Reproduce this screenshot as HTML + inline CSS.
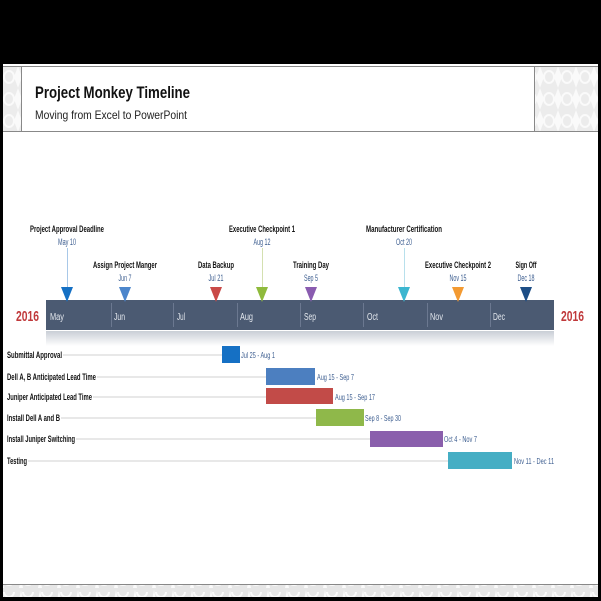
<!DOCTYPE html>
<html><head><meta charset="utf-8"><style>
html,body{margin:0;padding:0;background:#000;}
svg{display:block;}
text{font-family:"Liberation Sans",sans-serif;}
</style></head><body>
<svg width="601" height="601" viewBox="0 0 601 601" xmlns="http://www.w3.org/2000/svg">
<defs>
<pattern id="pat" width="18" height="22" patternUnits="userSpaceOnUse">
<rect width="18" height="22" fill="#ececec"/>
<ellipse cx="9" cy="11" rx="5" ry="6" fill="none" stroke="#fafafa" stroke-width="2"/>
<path d="M0 0 L4 11 L0 22 Z M18 0 L14 11 L18 22 Z" fill="#fafafa"/>
</pattern>
<pattern id="patb" width="19" height="12" patternUnits="userSpaceOnUse">
<rect width="19" height="12" fill="#e6e6e6"/>
<path d="M4 4 A5 5 0 0 0 14 4" fill="none" stroke="#fafafa" stroke-width="2"/>
<path d="M0 12 L2 2 L4 12 Z" fill="#fafafa"/>
</pattern>
<linearGradient id="refl" x1="0" y1="0" x2="0" y2="1">
<stop offset="0" stop-color="#c9ced6"/><stop offset="1" stop-color="#ffffff"/>
</linearGradient>
</defs>
<rect x="0" y="0" width="601" height="601" fill="#000"/>
<rect x="3" y="64" width="595" height="533" fill="#fff"/>
<rect x="3" y="66" width="18" height="65" fill="url(#pat)"/>
<rect x="535" y="66" width="63" height="65" fill="url(#pat)"/>
<line x1="3" y1="66.5" x2="598" y2="66.5" stroke="#888" stroke-width="1"/>
<line x1="3" y1="131.5" x2="598" y2="131.5" stroke="#888" stroke-width="1"/>
<line x1="21.5" y1="66" x2="21.5" y2="131" stroke="#888"/>
<line x1="534.5" y1="66" x2="534.5" y2="131" stroke="#888"/>
<text x="35" y="98" font-size="17" font-weight="bold" fill="#111" textLength="155" lengthAdjust="spacingAndGlyphs">Project Monkey Timeline</text>
<text x="35" y="119" font-size="12" fill="#222" textLength="152" lengthAdjust="spacingAndGlyphs">Moving from Excel to PowerPoint</text>
<rect x="3" y="585" width="595" height="12" fill="url(#patb)"/>
<line x1="3" y1="584.5" x2="598" y2="584.5" stroke="#888"/>
<rect x="46" y="331" width="508" height="15" fill="url(#refl)"/>
<rect x="46" y="300" width="508" height="30" fill="#4b5a72"/>
<g stroke="#6b7890" stroke-width="1">
<line x1="111.5" y1="303" x2="111.5" y2="327"/><line x1="173.5" y1="303" x2="173.5" y2="327"/>
<line x1="237.5" y1="303" x2="237.5" y2="327"/><line x1="300.5" y1="303" x2="300.5" y2="327"/>
<line x1="363.5" y1="303" x2="363.5" y2="327"/><line x1="427.5" y1="303" x2="427.5" y2="327"/>
<line x1="490.5" y1="303" x2="490.5" y2="327"/>
</g>
<g font-size="10" fill="#e4e8ee">
<text x="50" y="320" textLength="14" lengthAdjust="spacingAndGlyphs">May</text><text x="114" y="320" textLength="11" lengthAdjust="spacingAndGlyphs">Jun</text><text x="177" y="320" textLength="8" lengthAdjust="spacingAndGlyphs">Jul</text>
<text x="240" y="320" textLength="13" lengthAdjust="spacingAndGlyphs">Aug</text><text x="304" y="320" textLength="12" lengthAdjust="spacingAndGlyphs">Sep</text><text x="367" y="320" textLength="11" lengthAdjust="spacingAndGlyphs">Oct</text>
<text x="430" y="320" textLength="13" lengthAdjust="spacingAndGlyphs">Nov</text><text x="493" y="320" textLength="12" lengthAdjust="spacingAndGlyphs">Dec</text>
</g>
<text x="16" y="321" font-size="15" font-weight="bold" fill="#c0393b" textLength="23" lengthAdjust="spacingAndGlyphs">2016</text>
<text x="561" y="321" font-size="15" font-weight="bold" fill="#c0393b" textLength="23" lengthAdjust="spacingAndGlyphs">2016</text>
<g font-size="9">
<line x1="67.5" y1="248" x2="67.5" y2="288" stroke="#a8c8e8"/>
<polygon points="61,287 73,287 67,302" fill="#1570c4"/>
<text x="67" y="232" text-anchor="middle" font-weight="bold" fill="#111" textLength="74" lengthAdjust="spacingAndGlyphs">Project Approval Deadline</text>
<text x="67" y="245" text-anchor="middle" fill="#3d5e90" textLength="18" lengthAdjust="spacingAndGlyphs">May 10</text>

<polygon points="119,287 131,287 125,302" fill="#4c86cc"/>
<text x="125" y="268" text-anchor="middle" font-weight="bold" fill="#111" textLength="64" lengthAdjust="spacingAndGlyphs">Assign Project Manger</text>
<text x="125" y="281" text-anchor="middle" fill="#3d5e90" textLength="13" lengthAdjust="spacingAndGlyphs">Jun 7</text>

<polygon points="210,287 222,287 216,302" fill="#c94a48"/>
<text x="216" y="268" text-anchor="middle" font-weight="bold" fill="#111" textLength="36" lengthAdjust="spacingAndGlyphs">Data Backup</text>
<text x="216" y="281" text-anchor="middle" fill="#3d5e90" textLength="15" lengthAdjust="spacingAndGlyphs">Jul 21</text>

<line x1="262.5" y1="248" x2="262.5" y2="288" stroke="#d4e0b0"/>
<polygon points="256,287 268,287 262,302" fill="#8fba3c"/>
<text x="262" y="232" text-anchor="middle" font-weight="bold" fill="#111" textLength="66" lengthAdjust="spacingAndGlyphs">Executive Checkpoint 1</text>
<text x="262" y="245" text-anchor="middle" fill="#3d5e90" textLength="17" lengthAdjust="spacingAndGlyphs">Aug 12</text>

<polygon points="305,287 317,287 311,302" fill="#8a5cb0"/>
<text x="311" y="268" text-anchor="middle" font-weight="bold" fill="#111" textLength="36" lengthAdjust="spacingAndGlyphs">Training Day</text>
<text x="311" y="281" text-anchor="middle" fill="#3d5e90" textLength="14" lengthAdjust="spacingAndGlyphs">Sep 5</text>

<line x1="404.5" y1="248" x2="404.5" y2="288" stroke="#b8e0ec"/>
<polygon points="398,287 410,287 404,302" fill="#3cb6d0"/>
<text x="404" y="232" text-anchor="middle" font-weight="bold" fill="#111" textLength="76" lengthAdjust="spacingAndGlyphs">Manufacturer Certification</text>
<text x="404" y="245" text-anchor="middle" fill="#3d5e90" textLength="16" lengthAdjust="spacingAndGlyphs">Oct 20</text>

<polygon points="452,287 464,287 458,302" fill="#f39a32"/>
<text x="458" y="268" text-anchor="middle" font-weight="bold" fill="#111" textLength="66" lengthAdjust="spacingAndGlyphs">Executive Checkpoint 2</text>
<text x="458" y="281" text-anchor="middle" fill="#3d5e90" textLength="17" lengthAdjust="spacingAndGlyphs">Nov 15</text>

<polygon points="520,287 532,287 526,302" fill="#1d4e86"/>
<text x="526" y="268" text-anchor="middle" font-weight="bold" fill="#111" textLength="21" lengthAdjust="spacingAndGlyphs">Sign Off</text>
<text x="526" y="281" text-anchor="middle" fill="#3d5e90" textLength="17" lengthAdjust="spacingAndGlyphs">Dec 18</text>
</g>
<g stroke="#e0e0e0" stroke-width="1.5">
<line x1="63" y1="355" x2="222" y2="355"/>
<line x1="97" y1="377" x2="266" y2="377"/>
<line x1="93" y1="397" x2="266" y2="397"/>
<line x1="61" y1="418" x2="316" y2="418"/>
<line x1="76" y1="439" x2="370" y2="439"/>
<line x1="28" y1="461" x2="448" y2="461"/>
</g>
<g font-size="9" font-weight="bold" fill="#111">
<text x="7" y="358" textLength="55" lengthAdjust="spacingAndGlyphs">Submittal Approval</text>
<text x="7" y="380" textLength="89" lengthAdjust="spacingAndGlyphs">Dell A, B Anticipated Lead Time</text>
<text x="7" y="400" textLength="85" lengthAdjust="spacingAndGlyphs">Juniper Anticipated Lead Time</text>
<text x="7" y="421" textLength="53" lengthAdjust="spacingAndGlyphs">Install Dell A and B</text>
<text x="7" y="442" textLength="68" lengthAdjust="spacingAndGlyphs">Install Juniper Switching</text>
<text x="7" y="464" textLength="20" lengthAdjust="spacingAndGlyphs">Testing</text>
</g>
<rect x="222" y="346" width="18" height="17" fill="#1570c4"/>
<rect x="266" y="368" width="49" height="17" fill="#4c7fc0"/>
<rect x="266" y="388" width="67" height="16" fill="#c24b48"/>
<rect x="316" y="409" width="48" height="17" fill="#8fb84a"/>
<rect x="370" y="431" width="73" height="16" fill="#8a5fac"/>
<rect x="448" y="452" width="64" height="17" fill="#45aec4"/>
<g font-size="8.5" fill="#3d5e90">
<text x="241" y="358" textLength="34" lengthAdjust="spacingAndGlyphs">Jul 25 - Aug 1</text>
<text x="317" y="380" textLength="37" lengthAdjust="spacingAndGlyphs">Aug 15 - Sep 7</text>
<text x="335" y="400" textLength="40" lengthAdjust="spacingAndGlyphs">Aug 15 - Sep 17</text>
<text x="365" y="421" textLength="36" lengthAdjust="spacingAndGlyphs">Sep 8 - Sep 30</text>
<text x="444" y="442" textLength="33" lengthAdjust="spacingAndGlyphs">Oct 4 - Nov 7</text>
<text x="514" y="464" textLength="40" lengthAdjust="spacingAndGlyphs">Nov 11 - Dec 11</text>
</g>
</svg>
</body></html>
